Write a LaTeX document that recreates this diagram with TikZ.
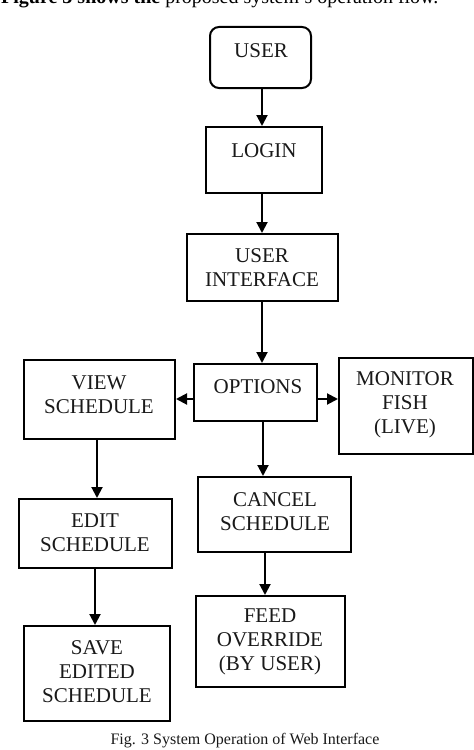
\documentclass[tikz,border=0pt]{standalone}
\usepackage{fontspec}
\setmainfont{Liberation Serif}
\usetikzlibrary{arrows.meta}
\begin{document}
\begin{tikzpicture}[x=1bp,y=-1bp,
  box/.style={draw=black,line width=2bp,inner sep=0pt,fill=white},
  txt/.style={font=\fontsize{21bp}{24bp}\selectfont,align=center,inner sep=0pt,text=black!90},
  arr/.style={line width=2bp,-{Triangle[length=11bp,width=11bp]}},
  captext/.style={font=\fontsize{16bp}{18bp}\selectfont,inner sep=0pt,text=black!90}]
\clip (0,0) rectangle (474,750);
\useasboundingbox (0,0) rectangle (474,750);
\node[font=\fontsize{20bp}{24bp}\selectfont,anchor=base west,inner sep=0pt] (intro) at (1,4) {\bfseries Figure 3 shows the\mdseries{} proposed system's operation flow.};
% boxes
\node[box,rounded corners=9bp,minimum width=101bp,minimum height=61bp] (user) at (260.5,57.5) {};
\node[box,minimum width=116bp,minimum height=66bp] (login) at (264,160) {};
\node[box,minimum width=151bp,minimum height=67bp] (ui) at (262.5,267.5) {};
\node[box,minimum width=123bp,minimum height=57bp] (options) at (255.5,392.5) {};
\node[box,minimum width=151bp,minimum height=79bp] (view) at (99.5,399.5) {};
\node[box,minimum width=134bp,minimum height=96bp] (monitor) at (406,406) {};
\node[box,minimum width=153bp,minimum height=69bp] (edit) at (95.5,533.5) {};
\node[box,minimum width=153bp,minimum height=75bp] (cancel) at (274.5,514.5) {};
\node[box,minimum width=146bp,minimum height=95bp] (save) at (97,673.5) {};
\node[box,minimum width=149bp,minimum height=91bp] (feed) at (270.5,641.5) {};
% texts
\node[txt] (tuser) at (261,51) {USER};
\node[txt] (tlogin) at (264,151) {LOGIN};
\node[txt] (tui) at (262,268) {USER\\INTERFACE};
\node[txt] (toptions) at (258,387) {OPTIONS};
\node[txt] (tview) at (99,395) {VIEW\\SCHEDULE};
\node[txt] (tmonitor) at (405,405) {MONITOR\\FISH\\(LIVE)};
\node[txt] (tedit) at (95,533) {EDIT\\SCHEDULE};
\node[txt] (tcancel) at (275,512) {CANCEL\\SCHEDULE};
\node[txt] (tsave) at (97,672) {SAVE\\EDITED\\SCHEDULE};
\node[txt] (tfeed) at (270,642) {FEED\\OVERRIDE\\(BY USER)};
\node[captext] (caption) at (245,741) {Fig. 3 System Operation of Web Interface};
% arrows
\draw[arr] ([xshift=1.5bp]user.south) -- ([xshift=1.5bp]user.south |- login.north);
\draw[arr] ([xshift=-2bp]login.south) -- ([xshift=-2bp]login.south |- ui.north);
\draw[arr] ([xshift=-0.5bp]ui.south) -- ([xshift=-0.5bp]ui.south |- options.north);
\draw[arr] ([xshift=7.5bp]options.south) -- ([xshift=7.5bp]options.south |- cancel.north);
\draw[arr] ([yshift=-6.5bp]options.west) -- ([yshift=-6.5bp]options.west -| view.east);
\draw[arr] ([yshift=-6.5bp]options.east) -- ([yshift=-6.5bp]options.east -| monitor.west);
\draw[arr] ([xshift=-2.5bp]view.south) -- ([xshift=-2.5bp]view.south |- edit.north);
\draw[arr] ([xshift=-0.5bp]edit.south) -- ([xshift=-0.5bp]edit.south |- save.north);
\draw[arr] ([xshift=-9.5bp]cancel.south) -- ([xshift=-9.5bp]cancel.south |- feed.north);
\end{tikzpicture}
\end{document}
